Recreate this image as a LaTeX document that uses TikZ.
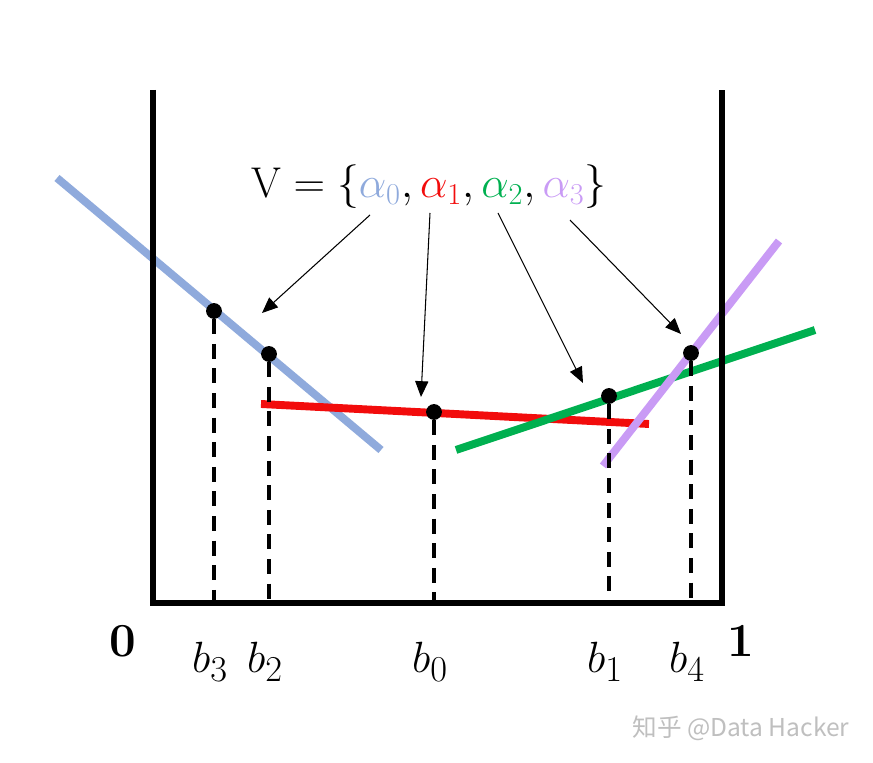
\documentclass[tikz,border=0pt]{standalone}
\usepackage{fontspec}
\newfontfamily\cjk{Noto Sans CJK SC}
\usetikzlibrary{arrows.meta}
\definecolor{lineblue}{HTML}{8FAADC}
\definecolor{linered}{HTML}{F20C0C}
\definecolor{linegreen}{HTML}{00B050}
\definecolor{linepurple}{HTML}{C99BF5}
\tikzset{
  frameline/.style={black, line width=2.9pt, line cap=butt},
  fitline/.style={line width=4.5pt},
  dropline/.style={black, line width=2pt, dash pattern=on 8.5pt off 5.5pt},
  breakpt/.style={circle, fill=black, inner sep=0pt, minimum size=9pt},
  pointer/.style={black, line width=0.6pt, -{Triangle[length=9pt,width=7.5pt]}},
  blabel/.style={font=\fontsize{28}{32}\selectfont},
  endlabel/.style={font=\fontsize{27}{31}\selectfont\bfseries},
}

\begin{document}
\begin{tikzpicture}[x=0.02cm, y=-0.02cm]
		\useasboundingbox (0,0) rectangle (873,763);
		% fitted lines
		\draw [fitline, lineblue] (57,178) -- (381,450);
		\draw [fitline, linered] (261,404) -- (649,424);
		\draw [fitline, linegreen] (456,450) -- (815,330);
		\draw [fitline, linepurple] (603,466) -- (779,241);
		% frame
		\draw [frameline] (153,90) -- (153,603) -- (722,603) -- (722,90);
		% break points and drops
		\foreach \px/\py/\name in {214/311/3, 269/354/2, 434/412/0, 609/396/1, 691/353/4} {
			\node[breakpt] (d\name) at (\px,\py) {};
			\coordinate (f\name) at (\px,603);
			\draw [dropline] (d\name) -- (f\name);
			\node[blabel] (b\name) at (\px-4,662) {$b_{\name}$};
		}
		\node[endlabel] (zero) at (123,641) {0};
		\node[endlabel] (one) at (741,641) {1};
		% set of alphas
		\node[font=\fontsize{24.5}{28}\selectfont] (set) at (429,187)
			{$\mathrm{V}=\{\textcolor{lineblue}{\alpha_0},\textcolor{linered}{\alpha_1},\textcolor{linegreen}{\alpha_2},\textcolor{linepurple}{\alpha_3}\}$};
		\coordinate (s0) at (370,215);
		\coordinate (s1) at (430,213);
		\coordinate (s2) at (498,213);
		\coordinate (s3) at (570,220);
		\coordinate (t0) at (262,313);
		\coordinate (t1) at (421,397);
		\coordinate (t2) at (583,383);
		\coordinate (t3) at (681,334);
		\foreach \i in {0,...,3} {
			\draw [pointer] (s\i) -- (t\i);
		}
		\node[text=black!25, font=\cjk\fontsize{14}{16}\selectfont] (mark) at (741,728) {知乎 @Data Hacker};
\end{tikzpicture}
\end{document}
